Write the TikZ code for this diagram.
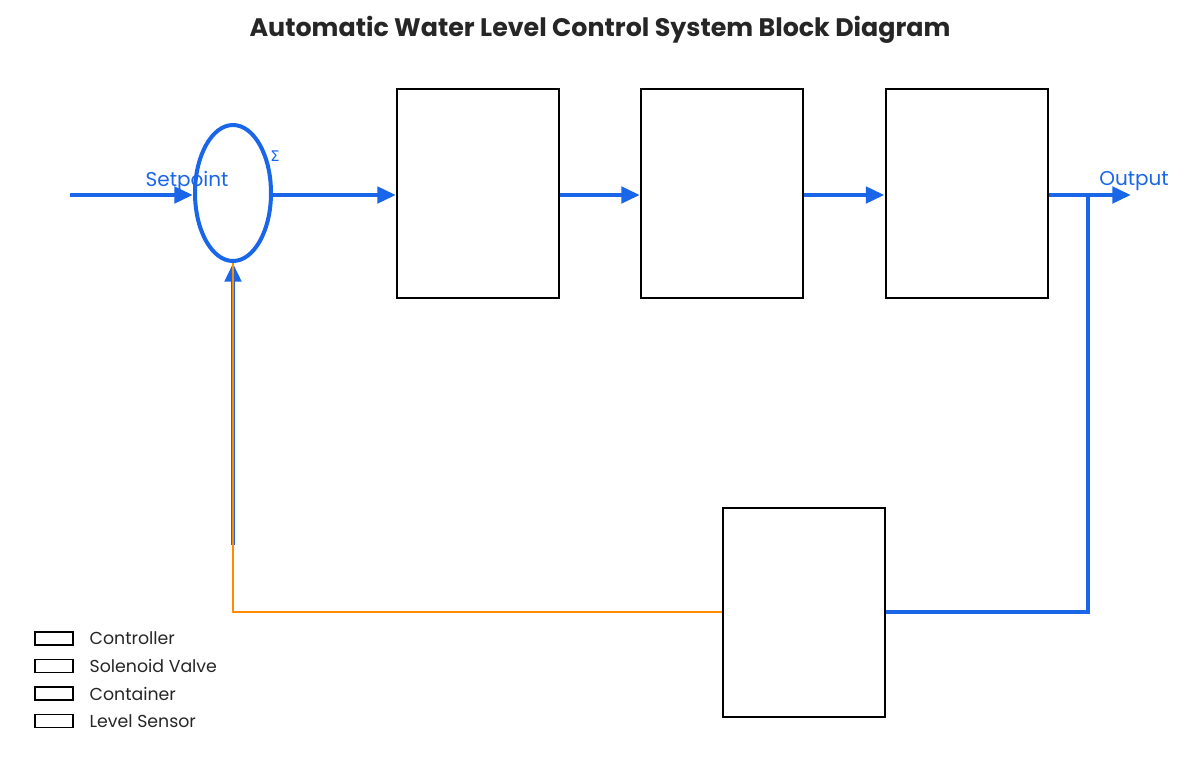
\documentclass[tikz,border=0pt]{standalone}
\usepackage{fontspec}
\setmainfont{Poppins}
\newfontfamily\djv{DejaVu Sans}
\usetikzlibrary{arrows.meta,shapes.geometric}
\definecolor{bl}{HTML}{1A66E8}
\definecolor{og}{HTML}{FF8C00}
\begin{document}
\begin{tikzpicture}[x=0.75pt,y=-0.75pt,
  blk/.style={draw=black,line width=1.5pt,minimum width=121.5pt,minimum height=156.75pt,inner sep=0pt},
  sig/.style={draw=bl,line width=3.6pt,-{Triangle[length=14pt,width=12pt]}},
  leg/.style={draw=black,line width=1.2pt},
  lt/.style={anchor=west,font=\fontsize{13}{15}\selectfont,text=black!85}]
\useasboundingbox (0,0) rectangle (1200,767);
\node[font=\fontsize{19}{22}\selectfont\bfseries,text=black!85] (title) at (600,30) {Automatic Water Level Control System Block Diagram};
\node[blk] (b1) at (478,193.5) {};
\node[blk] (b2) at (722,193.5) {};
\node[blk] (b3) at (966.5,193.5) {};
\node[blk] (b4) at (803.5,612.5) {};
\node[draw=bl,line width=3pt,ellipse,minimum width=57pt,minimum height=102pt,inner sep=0pt] (sum) at (233,193) {};
\coordinate (in) at (70,195);
\coordinate (sb) at (233,263);
\coordinate (fb) at (233,545);
\coordinate (c1) at (233,612);
\coordinate (c2) at (1088,612);
\coordinate (c3) at (1088,195);
\coordinate (out) at (1131,195);
\draw[sig] (in) -- (sum.west |- in);
\draw[sig] (sum.east |- in) -- (b1.west |- in);
\draw[sig] (b1.east |- in) -- (b2.west |- in);
\draw[sig] (b2.east |- in) -- (b3.west |- in);
\draw[sig] (b3.east |- in) -- (out);
\draw[draw=bl,line width=2.6pt] (b4.east |- c2) -- (c2) -- (c3);
\draw[sig] (fb) -- (sb);
\draw[draw=og,line width=2.2pt] (b4.west |- c1) -- (c1) -- (sb);
\node[text=bl,font=\djv\fontsize{11}{12}\selectfont] (sg) at (275,156) {Σ};
\node[text=bl,font=\fontsize{15}{17}\selectfont] (sp) at (187,181) {Setpoint};
\node[text=bl,font=\fontsize{15}{17}\selectfont] (op) at (1134,181) {Output};
\foreach \t [count=\i from 0] in {Controller,Solenoid Valve,Container,Level Sensor}{
  \draw[leg] (35,632+27.5*\i) rectangle (73,645+27.5*\i);
  \node[lt] at (85,638.5+27.5*\i) {\t};
}
\end{tikzpicture}
\end{document}
